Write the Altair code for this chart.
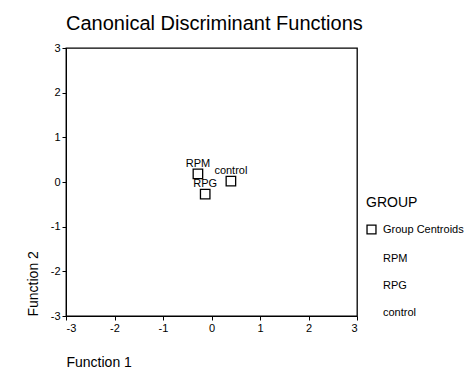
import altair as alt
import pandas as pd

groups = ["RPM", "RPG", "control"]
func1 = [-0.28, -0.13, 0.40]
func2 = [0.18, -0.27, 0.02]
legend_items = ["Group Centroids", "RPM", "RPG", "control"]
ticks = [-3, -2, -1, 0, 1, 2, 3]

df = pd.DataFrame({"group": groups, "f1": func1, "f2": func2,
                   "legend": ["Group Centroids"] * 3})

FONT = "Liberation Sans"
LABEL = "'' + datum.value"

x = alt.X("f1:Q", scale=alt.Scale(domain=[-3, 3], nice=False, zero=False),
          axis=alt.Axis(values=ticks, title="Function 1", grid=False, labelExpr=LABEL,
                        titleX=0, titleY=46, titleAlign="left", titleBaseline="middle",
                        titleFontSize=14, titleFontWeight="normal"))
y = alt.Y("f2:Q", scale=alt.Scale(domain=[-3, 3], nice=False, zero=False),
          axis=alt.Axis(values=ticks, title="Function 2", grid=False, labelExpr=LABEL,
                        titleX=-33, titleY=268, titleAngle=-90, titleAlign="left",
                        titleBaseline="middle", titleFontSize=14, titleFontWeight="normal"))

points = alt.Chart(df).mark_point(shape="square", filled=False, color="black",
                                  strokeWidth=1.3, size=90, opacity=1).encode(
    x=x, y=y,
    shape=alt.Shape("legend:N",
                    scale=alt.Scale(domain=legend_items,
                                    range=["square", "M0,0", "M0,0", "M0,0"]),
                    legend=alt.Legend(title="GROUP", orient="none", legendX=300, legendY=148,
                                      titleFontSize=14, titleFontWeight="normal",
                                      titleColor="black", titlePadding=14,
                                      labelFontSize=11, labelColor="black",
                                      rowPadding=15, symbolSize=80,
                                      symbolStrokeColor="black", symbolStrokeWidth=1.3,
                                      symbolFillColor="transparent", labelOffset=6)),
)

labels = alt.Chart(df).mark_text(dy=-10, fontSize=11, color="black", font=FONT).encode(
    x=alt.X("f1:Q"), y=alt.Y("f2:Q"), text="group:N")

chart = alt.layer(points, labels).properties(
    width=291, height=268,
    title=alt.TitleParams("Canonical Discriminant Functions", anchor="start", frame="group",
                          fontSize=20, fontWeight="normal", font=FONT, color="black",
                          offset=8),
    autosize=alt.AutoSizeParams(type="none"),
    padding={"left": 58, "top": 40, "right": 109, "bottom": 55},
).configure(font=FONT).configure_axis(
    domainColor="black", tickColor="black", labelColor="black", titleColor="black",
    labelFontSize=11, tickSize=4, labelPadding=2, titleFont=FONT, labelFont=FONT
).configure_view(stroke="black", strokeWidth=1.3).configure_legend(
    labelFont=FONT, titleFont=FONT)

chart.save("out.html", embed_options={"renderer": "svg", "actions": False})
